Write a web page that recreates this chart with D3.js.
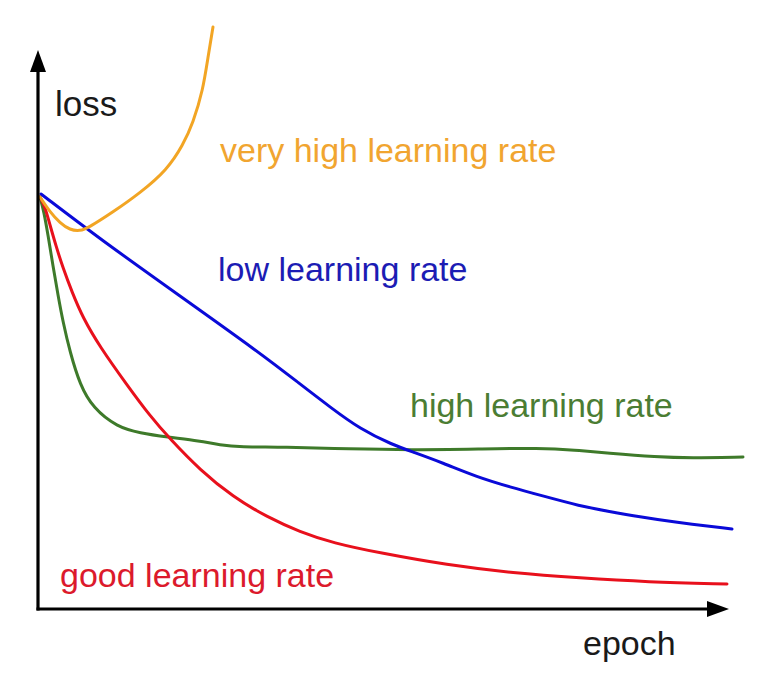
<!DOCTYPE html>
<html>
<head>
<meta charset="utf-8">
<script src="https://cdn.jsdelivr.net/npm/d3@7"></script>
<style>
  html, body { margin: 0; padding: 0; background: #ffffff; }
  svg { display: block; }
  text { font-family: "Liberation Sans", Arial, Helvetica, sans-serif; }
</style>
</head>
<body>
<svg id="chart" width="762" height="677"></svg>
<script>
// ---- data (epoch, loss) in arbitrary units ----
const veryHighEpoch = [0.3, 1.3, 2.3, 3.3, 4.3, 5.1, 7.6, 10.3, 13.0, 14.6, 15.6, 16.6, 17.1, 17.6];
const veryHighLoss  = [41.2, 39.7, 38.6, 37.9, 37.8, 38.1, 39.7, 41.6, 43.9, 46.4, 48.6, 51.9, 55.2, 58.2];

const lowEpoch = [0.4, 6.3, 14.3, 22.3, 26.3, 29.3, 32.3, 35.6, 37.6, 40.6, 44.0, 47.3, 50.6, 54.3, 57.0, 60.3, 63.6, 69.5];
const lowLoss  = [41.5, 37.0, 31.3, 25.6, 22.5, 20.2, 18.0, 16.4, 15.7, 14.6, 13.2, 12.2, 11.3, 10.3, 9.8, 9.2, 8.7, 8.0];

const highEpoch = [0.3, 0.7, 1.1, 1.6, 2.1, 2.6, 3.3, 4.3, 5.6, 8.0, 10.3, 13.0, 16.3, 18.3, 20.3, 24.6, 31.3, 37.3, 44.3, 50.3, 53.8, 57.0, 62.0, 65.3, 70.6];
const highLoss  = [41.2, 39.7, 37.4, 34.3, 31.4, 28.7, 25.7, 22.4, 20.1, 18.2, 17.6, 17.2, 16.8, 16.4, 16.2, 16.2, 16.0, 15.9, 16.0, 16.1, 15.9, 15.6, 15.2, 15.1, 15.2];

const goodEpoch = [0.3, 0.8, 1.3, 1.9, 2.6, 3.5, 4.6, 6.3, 9.0, 11.3, 13.3, 16.3, 19.6, 23.0, 26.3, 29.6, 34.3, 41.0, 47.6, 54.3, 61.0, 69.0];
const goodLoss  = [41.2, 40.2, 38.4, 36.3, 34.1, 31.7, 29.1, 26.2, 22.4, 19.3, 17.0, 13.9, 11.2, 9.2, 7.7, 6.6, 5.6, 4.4, 3.6, 3.1, 2.7, 2.5];

const seriesNames = ["very high learning rate", "low learning rate", "high learning rate", "good learning rate"];
const axisLabels = ["loss", "epoch"];

// ---- layout ----
const svg = d3.select("#chart");
const x = d3.scaleLinear().domain([0, 70]).range([37, 737]);
const y = d3.scaleLinear().domain([0, 56]).range([609, 49]);

const series = [
  { name: seriesNames[0], ex: veryHighEpoch, ly: veryHighLoss, line: "#f2a524", text: "#f1a530", lx: 220, ty: 162 },
  { name: seriesNames[1], ex: lowEpoch,      ly: lowLoss,      line: "#0a0ad8", text: "#1c1cb4", lx: 218, ty: 281 },
  { name: seriesNames[2], ex: highEpoch,     ly: highLoss,     line: "#3e7a2a", text: "#4b7d33", lx: 410, ty: 417 },
  { name: seriesNames[3], ex: goodEpoch,     ly: goodLoss,     line: "#e8101c", text: "#dc1a2c", lx: 60,  ty: 587 }
];

const line = d3.line()
  .x(d => x(d[0]))
  .y(d => y(d[1]))
  .curve(d3.curveBasis);

const drawOrder = [2, 3, 1, 0];
drawOrder.forEach(i => {
  const s = series[i];
  const pts = s.ex.map((e, k) => [e, s.ly[k]]);
  svg.append("path")
    .attr("d", line(pts))
    .attr("fill", "none")
    .attr("stroke", s.line)
    .attr("stroke-width", 3)
    .attr("stroke-linecap", "round")
    .attr("stroke-linejoin", "round");
});

// axes with arrows
const ax0 = 38, ay0 = 609;
svg.append("line")
  .attr("x1", ax0).attr("y1", ay0 + 1.5)
  .attr("x2", ax0).attr("y2", 70)
  .attr("stroke", "#000").attr("stroke-width", 3.2);
svg.append("path")
  .attr("d", `M${ax0 - 8},72 L${ax0},50 L${ax0 + 8},72 Z`)
  .attr("fill", "#000");

svg.append("line")
  .attr("x1", ax0 - 1.5).attr("y1", ay0)
  .attr("x2", 709).attr("y2", ay0)
  .attr("stroke", "#000").attr("stroke-width", 3.2);
svg.append("path")
  .attr("d", `M707,${ay0 - 8} L729,${ay0} L707,${ay0 + 8} Z`)
  .attr("fill", "#000");

// labels
series.forEach(s => {
  svg.append("text")
    .attr("x", s.lx).attr("y", s.ty)
    .attr("fill", s.text)
    .attr("font-size", 34)
    .text(s.name);
});

svg.append("text")
  .attr("x", 55).attr("y", 116)
  .attr("fill", "#1a1a1a")
  .attr("font-size", 35)
  .text(axisLabels[0]);

svg.append("text")
  .attr("x", 583).attr("y", 655)
  .attr("fill", "#1a1a1a")
  .attr("font-size", 34)
  .text(axisLabels[1]);
</script>
</body>
</html>
